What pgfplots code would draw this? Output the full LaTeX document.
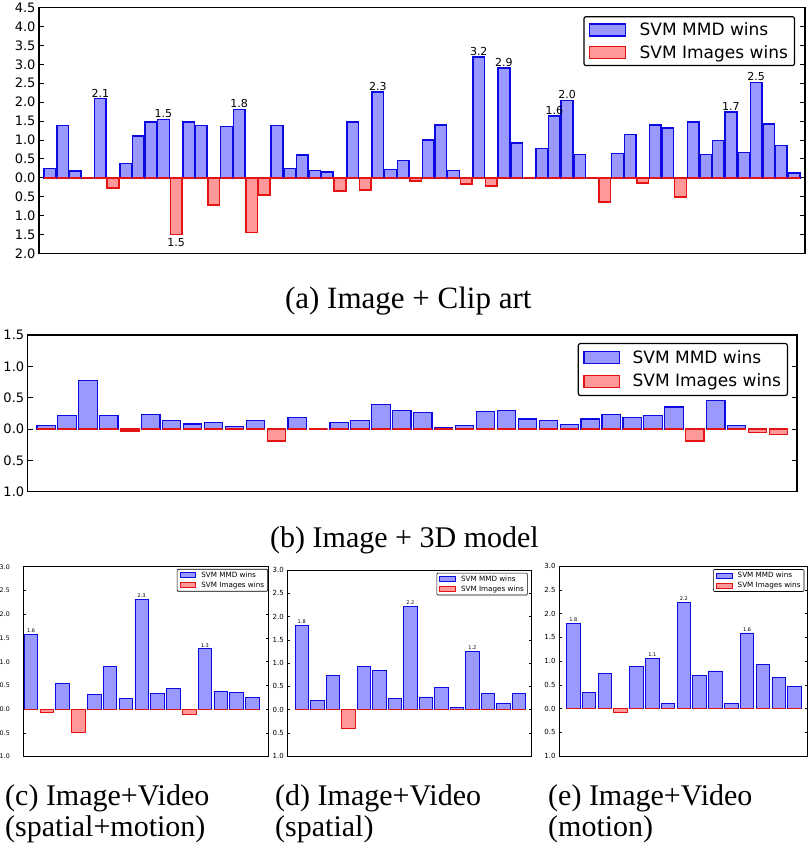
\documentclass[border=0pt]{standalone}
\usepackage{fontspec}
\setmainfont{DejaVu Sans}
\newfontfamily\capfont{Liberation Serif}
\usepackage{pgfplots}
\usepackage{pgfplotstable}
\pgfplotsset{compat=1.18}

\definecolor{mmdfill}{RGB}{153,153,255}
\definecolor{mmdedge}{RGB}{10,10,225}
\definecolor{imgfill}{RGB}{255,153,153}
\definecolor{imgedge}{RGB}{228,20,20}

% (a) Image + Clip art
\pgfplotstableread{
x mmd img
0 0.24 0
1 1.38 0
2 0.18 0
3 0 0
4 2.09 0
5 0 -0.27
6 0.38 0
7 1.10 0
8 1.47 0
9 1.54 0
10 0 -1.50
11 1.48 0
12 1.38 0
13 0 -0.72
14 1.36 0
15 1.80 0
16 0 -1.45
17 0 -0.45
18 1.38 0
19 0.24 0
20 0.60 0
21 0.19 0
22 0.16 0
23 0 -0.35
24 1.47 0
25 0 -0.32
26 2.27 0
27 0.22 0
28 0.46 0
29 0 -0.09
30 1.00 0
31 1.40 0
32 0.19 0
33 0 -0.17
34 3.19 0
35 0 -0.22
36 2.90 0
37 0.92 0
38 0 0
39 0.77 0
40 1.63 0
41 2.04 0
42 0.61 0
43 0 0
44 0 -0.64
45 0.64 0
46 1.15 0
47 0 -0.14
48 1.39 0
49 1.31 0
50 0 -0.51
51 1.47 0
52 0.61 0
53 0.98 0
54 1.74 0
55 0.67 0
56 2.52 0
57 1.42 0
58 0.85 0
59 0.13 0
}\clipart

% (b) Image + 3D model
\pgfplotstableread{
x mmd img
0 0.06 0
1 0.21 0
2 0.77 0
3 0.21 0
4 0 -0.03
5 0.23 0
6 0.13 0
7 0.08 0
8 0.10 0
9 0.04 0
10 0.14 0
11 0 -0.19
12 0.18 0
13 0 0
14 0.11 0
15 0.14 0
16 0.39 0
17 0.29 0
18 0.27 0
19 0.03 0
20 0.05 0
21 0.28 0
22 0.29 0
23 0.16 0
24 0.14 0
25 0.07 0
26 0.16 0
27 0.23 0
28 0.18 0
29 0.21 0
30 0.35 0
31 0 -0.19
32 0.45 0
33 0.06 0
34 0 -0.06
35 0 -0.085
}\threed

% (c) spatial+motion
\pgfplotstableread{
x mmd img
0 1.57 0
1 0 -0.07
2 0.55 0
3 0 -0.49
4 0.32 0
5 0.90 0
6 0.22 0
7 2.31 0
8 0.34 0
9 0.43 0
10 0 -0.11
11 1.27 0
12 0.37 0
13 0.35 0
14 0.24 0
}\vidboth

% (d) spatial
\pgfplotstableread{
x mmd img
0 1.81 0
1 0.20 0
2 0.73 0
3 0 -0.41
4 0.93 0
5 0.84 0
6 0.24 0
7 2.22 0
8 0.27 0
9 0.48 0
10 0.05 0
11 1.25 0
12 0.35 0
13 0.14 0
14 0.35 0
}\vidspatial

% (e) motion
\pgfplotstableread{
x mmd img
0 1.80 0
1 0.34 0
2 0.745 0
3 0 -0.09
4 0.89 0
5 1.06 0
6 0.11 0
7 2.24 0
8 0.69 0
9 0.79 0
10 0.11 0
11 1.59 0
12 0.93 0
13 0.65 0
14 0.47 0
}\vidmotion

\pgfplotsset{
  winpanel/.style={
    scale only axis, anchor=north west,
    xtick=\empty, ytick pos=both, tick align=inside,
    legend cell align=left,
    every tick/.style={black, line width=0.8pt},
  },
  mmdbar/.style={ybar, bar shift=0pt, fill=mmdfill, draw=mmdedge, forget plot},
  imgbar/.style={ybar, bar shift=0pt, fill=imgfill, draw=imgedge, forget plot},
  barlabel/.style={ybar, bar shift=0pt, draw=none, fill=none, forget plot,
    nodes near coords, point meta=explicit symbolic,
    every node near coord/.append style={font=#1, inner sep=1.5pt, text=black}},
}

\begin{document}
\begin{tikzpicture}
\useasboundingbox (0,0) rectangle (811pt,-852pt);

% ---------- (a) ----------
\begin{axis}[winpanel,
  at={(39pt,-7.5pt)}, width=766pt, height=246pt,
  xmin=-0.87, xmax=59.87, ymin=-2, ymax=4.5,
  ytick={-2,-1.5,-1,-0.5,0,0.5,1,1.5,2,2.5,3,3.5,4,4.5},
  yticklabels={2.0,1.5,1.0,0.5,0.0,0.5,1.0,1.5,2.0,2.5,3.0,3.5,4.0,4.5},
  yticklabel style={font=\fontsize{13}{15}\selectfont},
  axis line style={line width=1.2pt},
  major tick length=5pt,
  legend style={at={(0.987,0.965)}, anchor=north east, draw=black,
    line width=1.2pt, rounded corners=2pt, font=\fontsize{17}{20}\selectfont,
    inner xsep=5pt, inner ysep=2pt, nodes={inner xsep=1.5pt, inner ysep=4pt},
    /tikz/every odd column/.append style={column sep=12pt}},
]
\addplot[mmdbar, bar width=0.92, line width=1.5pt] table[x=x, y=mmd] {\clipart};
\addplot[imgbar, bar width=0.92, line width=1.5pt] table[x=x, y=img] {\clipart};
\addplot[barlabel={\fontsize{11}{13}\selectfont}, bar width=0.92] coordinates {
  (4,2.09) [2.1] (9,1.54) [1.5] (15,1.80) [1.8]
  (26,2.27) [2.3] (34,3.19) [3.2] (36,2.90) [2.9] (40,1.63) [1.6]
  (41,2.04) [2.0] (54,1.74) [1.7] (56,2.52) [2.5]
};
% label under the negative bar
\addplot[barlabel={\fontsize{11}{13}\selectfont}, bar width=0.92,
  every node near coord/.append style={yshift=-14pt}] coordinates {
  (10,-1.50) [1.5]
};
\addlegendimage{legend image code/.code={\draw[sharp corners, fill=mmdfill, draw=mmdedge, line width=1.2pt] (0pt,-6pt) rectangle (36pt,6pt);}}
\addlegendentry{SVM MMD wins}
\addlegendimage{legend image code/.code={\draw[sharp corners, fill=imgfill, draw=imgedge, line width=1.2pt] (0pt,-6pt) rectangle (36pt,6pt);}}
\addlegendentry{SVM Images wins}
\end{axis}

% ---------- (b) ----------
\begin{axis}[winpanel,
  at={(27.7pt,-335pt)}, width=769.3pt, height=156.7pt,
  xmin=-0.88, xmax=35.88, ymin=-1, ymax=1.5,
  ytick={-1,-0.5,0,0.5,1,1.5},
  yticklabels={1.0,0.5,0.0,0.5,1.0,1.5},
  yticklabel style={font=\fontsize{13}{15}\selectfont},
  axis line style={line width=1.1pt},
  major tick length=5pt,
  legend style={at={(0.9883,0.949)}, anchor=north east, draw=black,
    line width=1.2pt, rounded corners=2pt, font=\fontsize{17}{20}\selectfont,
    inner xsep=5pt, inner ysep=2.5pt, nodes={inner xsep=1.5pt, inner ysep=4.5pt},
    /tikz/every odd column/.append style={column sep=11pt}},
]
\addplot[mmdbar, bar width=0.875, line width=1.2pt] table[x=x, y=mmd] {\threed};
\addplot[imgbar, bar width=0.875, line width=1.2pt] table[x=x, y=img] {\threed};
\addlegendimage{legend image code/.code={\draw[sharp corners, fill=mmdfill, draw=mmdedge, line width=1.2pt] (0pt,-6pt) rectangle (35.6pt,6pt);}}
\addlegendentry{SVM MMD wins}
\addlegendimage{legend image code/.code={\draw[sharp corners, fill=imgfill, draw=imgedge, line width=1.2pt] (0pt,-6pt) rectangle (35.6pt,6pt);}}
\addlegendentry{SVM Images wins}
\end{axis}

% ---------- (c) (d) (e) ----------
\pgfplotsset{
  smallpanel/.style={winpanel,
    ymin=-1, ymax=3,
    ytick={-1,-0.5,0,0.5,1,1.5,2,2.5,3},
    yticklabels={1.0,0.5,0.0,0.5,1.0,1.5,2.0,2.5,3.0},
    yticklabel style={font=\fontsize{7}{8}\selectfont},
    axis line style={line width=0.7pt},
    major tick length=2.5pt,
    every tick/.style={black, line width=0.5pt},
    legend style={anchor=north east, draw=black,
      line width=0.6pt, rounded corners=1pt, font=\fontsize{7.2}{9}\selectfont,
      inner xsep=2.5pt, inner ysep=1pt, nodes={inner xsep=1pt, inner ysep=1.5pt},
      /tikz/every odd column/.append style={column sep=4.5pt}},
  },
}

\begin{axis}[smallpanel,
  at={(23.3pt,-566.7pt)}, width=244.7pt, height=190pt,
  xmin=-0.49, xmax=14.99,
  yticklabel style={font=\fontsize{6.3}{8}\selectfont, xshift=-10pt},
  legend style={at={(1.0,0.988)}},
]
\addplot[mmdbar, bar width=0.86, line width=0.8pt] table[x=x, y=mmd] {\vidboth};
\addplot[imgbar, bar width=0.86, line width=0.8pt] table[x=x, y=img] {\vidboth};
\addplot[barlabel={\fontsize{5}{6}\selectfont}, bar width=0.86] coordinates {
  (0,1.57) [1.6] (7,2.31) [2.3] (11,1.27) [1.3]
};
\addlegendimage{legend image code/.code={\draw[sharp corners, fill=mmdfill, draw=mmdedge, line width=0.6pt] (0pt,-2.5pt) rectangle (15.7pt,2.5pt);}}
\addlegendentry{SVM MMD wins}
\addlegendimage{legend image code/.code={\draw[sharp corners, fill=imgfill, draw=imgedge, line width=0.6pt] (0pt,-2.5pt) rectangle (15.7pt,2.5pt);}}
\addlegendentry{SVM Images wins}
\end{axis}

\begin{axis}[smallpanel,
  at={(287.3pt,-570pt)}, width=244.4pt, height=186pt,
  xmin=-0.93, xmax=14.83,
  legend style={at={(0.9836,0.985)}},
]
\addplot[mmdbar, bar width=0.86, line width=0.8pt] table[x=x, y=mmd] {\vidspatial};
\addplot[imgbar, bar width=0.86, line width=0.8pt] table[x=x, y=img] {\vidspatial};
\addplot[barlabel={\fontsize{5}{6}\selectfont}, bar width=0.86] coordinates {
  (0,1.81) [1.8] (7,2.22) [2.2] (11,1.25) [1.2]
};
\addlegendimage{legend image code/.code={\draw[sharp corners, fill=mmdfill, draw=mmdedge, line width=0.6pt] (0pt,-2.5pt) rectangle (15.7pt,2.5pt);}}
\addlegendentry{SVM MMD wins}
\addlegendimage{legend image code/.code={\draw[sharp corners, fill=imgfill, draw=imgedge, line width=0.6pt] (0pt,-2.5pt) rectangle (15.7pt,2.5pt);}}
\addlegendentry{SVM Images wins}
\end{axis}

\begin{axis}[smallpanel,
  at={(559pt,-566pt)}, width=248.3pt, height=190pt,
  xmin=-0.9, xmax=14.81,
  legend style={at={(0.988,0.983)}},
]
\addplot[mmdbar, bar width=0.86, line width=0.8pt] table[x=x, y=mmd] {\vidmotion};
\addplot[imgbar, bar width=0.86, line width=0.8pt] table[x=x, y=img] {\vidmotion};
\addplot[barlabel={\fontsize{5}{6}\selectfont}, bar width=0.86] coordinates {
  (0,1.80) [1.8] (5,1.06) [1.1] (7,2.24) [2.2] (11,1.59) [1.6]
};
\addlegendimage{legend image code/.code={\draw[sharp corners, fill=mmdfill, draw=mmdedge, line width=0.6pt] (0pt,-2.5pt) rectangle (15.7pt,2.5pt);}}
\addlegendentry{SVM MMD wins}
\addlegendimage{legend image code/.code={\draw[sharp corners, fill=imgfill, draw=imgedge, line width=0.6pt] (0pt,-2.5pt) rectangle (15.7pt,2.5pt);}}
\addlegendentry{SVM Images wins}
\end{axis}

% ---------- captions ----------
\begin{scope}[every node/.style={font=\capfont\fontsize{30}{34}\selectfont, inner sep=0pt}]
\node[anchor=base] at (408.3pt,-308pt) {\fontsize{31}{34}\selectfont(a) Image + Clip art};
\node[anchor=base] at (404.5pt,-547pt) {(b) Image + 3D model};
\node[anchor=base west] at (5pt,-805pt) {(c) Image+Video};
\node[anchor=base west] at (5pt,-836pt) {(spatial+motion)};
\node[anchor=base west] at (275pt,-805pt) {(d) Image+Video};
\node[anchor=base west] at (275pt,-836pt) {(spatial)};
\node[anchor=base west] at (548pt,-805pt) {(e) Image+Video};
\node[anchor=base west] at (548pt,-836pt) {(motion)};
\end{scope}
\end{tikzpicture}
\end{document}
